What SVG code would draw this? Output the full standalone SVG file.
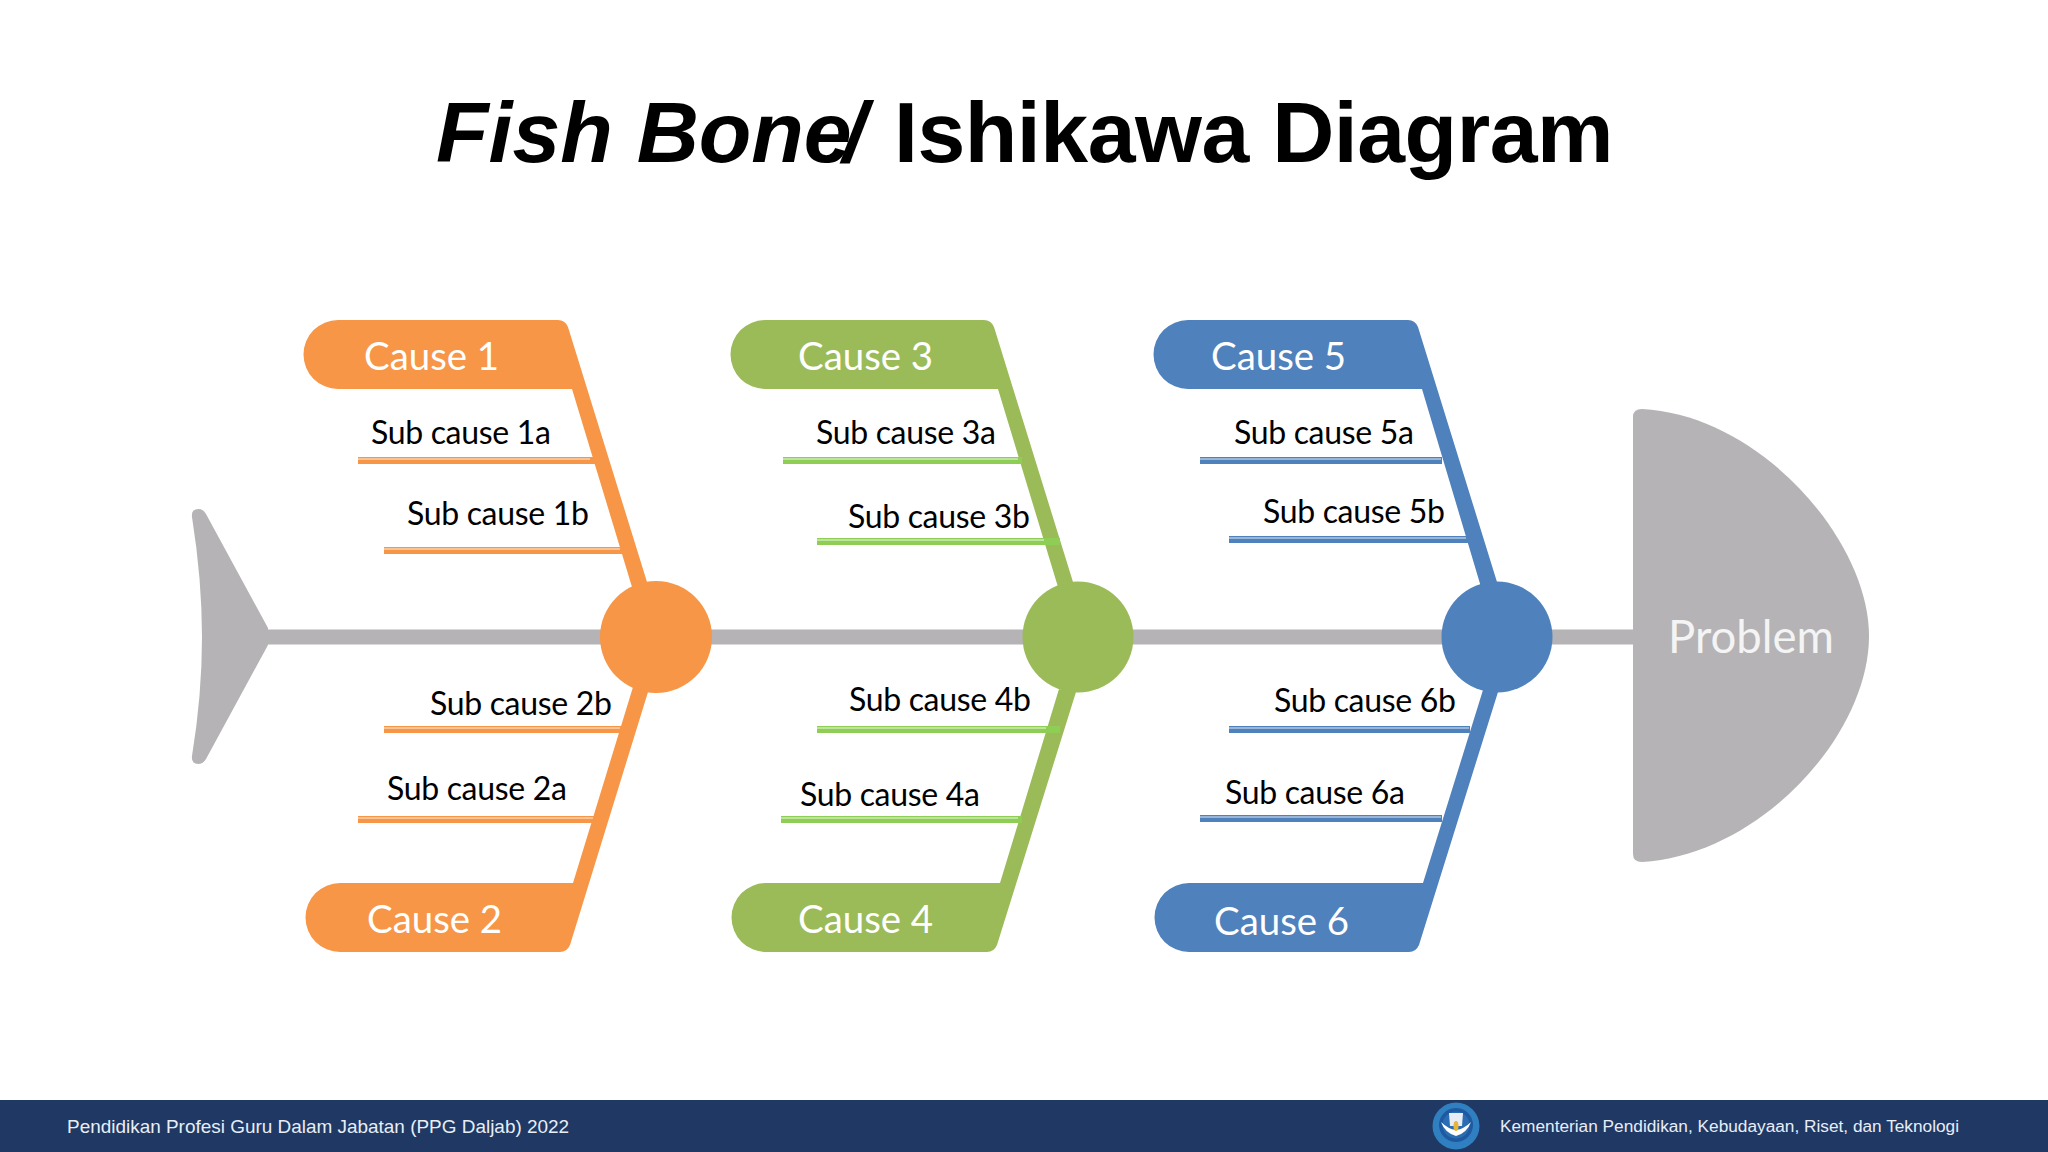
<svg xmlns="http://www.w3.org/2000/svg" width="2048" height="1152" viewBox="0 0 2048 1152">
<style>
.title{font-family:"Liberation Sans",Arial,sans-serif;font-weight:700;font-size:86px;fill:#000}
.cause{font-family:Lato,"Open Sans",sans-serif;font-size:38.400px;fill:#fff}
.sub{font-family:Lato,"Open Sans",sans-serif;font-size:32px;letter-spacing:-.33px;fill:#000}
.prob{font-family:Lato,"Open Sans",sans-serif;font-size:45.500px;fill:#f4f4f4}
.foot{font-family:"Liberation Sans",Arial,sans-serif;fill:#e8eef6}
.o{fill:#f79646}.g{fill:#9bbb59}.b{fill:#4f81bd}
.lo{stroke:#f79646}.lg{stroke:#8fce55}.lb{stroke:#4f81bd}
.sl{stroke-width:7;fill:none}
.gap{stroke:#fff;stroke-width:1.200;opacity:.85}
.bone{fill:#b5b3b5}
</style>
<rect width="2048" height="1152" fill="#fff"/>
<text class="title" x="436" y="162"><tspan font-style="italic">Fish Bone</tspan><tspan font-style="italic" dx="-9">/</tspan><tspan x="894" letter-spacing="-.47">Ishikawa Diagram</tspan></text>

<g id="connectors">
<path id="spine" d="M262,637H1650" stroke="#b5b3b5" stroke-width="15" fill="none"/>
</g>

<g id="tail"><path class="bone" d="M192,517Q191,509 198.500,509Q203,509 206,514L268,628V645L206,759Q203,764 198.500,764Q191,764 192,756Q202,695 202,637Q202,580 192,517Z"/></g>
<g id="problem"><path class="bone" d="M1633,417Q1633,409 1642,409C1760,415 1869,540 1869,636C1869,735 1760,855 1642,862Q1633,862 1633,854Z"/>
<text class="prob" x="1668" y="653">Problem</text></g>

<g id="cause1"><path class="o" d="M338,320H558Q565,320 568,327L647,582L632,587L572,389H338A34.500,34.500 0 0 1 338,320Z"/><text class="cause" x="364" y="369.500">Cause 1</text></g>
<g id="cause2"><path class="o" d="M340,883H573L633,687L648,692L570,945Q567,952 560,952H340A34.500,34.500 0 0 1 340,883Z"/><text class="cause" x="367" y="932.500">Cause 2</text></g>
<g id="cause3"><path class="g" d="M765,320H984Q991,320 994,327L1073,582L1058,587L998,389H765A34.500,34.500 0 0 1 765,320Z"/><text class="cause" x="798" y="369.500">Cause 3</text></g>
<g id="cause4"><path class="g" d="M766,883H1000L1059,689L1076,692L997,945Q994,952 987,952H766A34.500,34.500 0 0 1 766,883Z"/><text class="cause" x="798" y="932.500">Cause 4</text></g>
<g id="cause5"><path class="b" d="M1188,320H1408Q1415,320 1418,327L1497,582L1481,587L1422,389H1188A34.500,34.500 0 0 1 1188,320Z"/><text class="cause" x="1211" y="369.500">Cause 5</text></g>
<g id="cause6"><path class="b" d="M1189,883H1423L1483,690L1498,692L1419,945Q1416,952 1409,952H1189A34.500,34.500 0 0 1 1189,883Z"/><text class="cause" x="1214" y="934.500">Cause 6</text></g>

<g id="hub1"><circle class="o" cx="656" cy="637" r="56"/></g>
<g id="hub2"><circle class="g" cx="1078" cy="637" r="55.500"/></g>
<g id="hub3"><circle class="b" cx="1497" cy="637" r="55.500"/></g>

<g id="sublines">
<path class="sl lo" d="M358,460.500H595M384,550.500H622M384,729.500H622M358,819.500H595"/>
<path class="sl lg" d="M783,460.500H1022M817,541.500H1060M817,729.500H1060M781,819.500H1022"/>
<path class="sl lb" d="M1200,460.500H1442M1229,539.500H1468M1229,729.500H1470M1200,818.500H1442"/>
<path class="gap" d="M358,459H590M384,549H620M384,728H620M358,818H593"/>
<path class="gap" d="M783,459H1018M817,540H1044M817,728H1046M781,818H1018"/>
<path class="gap" d="M1200,459H1441M1229,538H1466M1229,728H1469M1200,817H1441"/>
</g>

<g id="sub1a"><text class="sub" x="371" y="444">Sub cause 1a</text></g>
<g id="sub1b"><text class="sub" x="407" y="525">Sub cause 1b</text></g>
<g id="sub2b"><text class="sub" x="430" y="715">Sub cause 2b</text></g>
<g id="sub2a"><text class="sub" x="387" y="800">Sub cause 2a</text></g>
<g id="sub3a"><text class="sub" x="816" y="444">Sub cause 3a</text></g>
<g id="sub3b"><text class="sub" x="848" y="528">Sub cause 3b</text></g>
<g id="sub4b"><text class="sub" x="849" y="711">Sub cause 4b</text></g>
<g id="sub4a"><text class="sub" x="800" y="806">Sub cause 4a</text></g>
<g id="sub5a"><text class="sub" x="1234" y="444">Sub cause 5a</text></g>
<g id="sub5b"><text class="sub" x="1263" y="523">Sub cause 5b</text></g>
<g id="sub6b"><text class="sub" x="1274" y="712">Sub cause 6b</text></g>
<g id="sub6a"><text class="sub" x="1225" y="804">Sub cause 6a</text></g>

<g id="footer">
<rect x="0" y="1100" width="2048" height="52" fill="#1f3864"/>
<text class="foot" x="67" y="1133" font-size="18.950">Pendidikan Profesi Guru Dalam Jabatan (PPG Daljab) 2022</text>
<text class="foot" x="1500" y="1132" font-size="17.250">Kementerian Pendidikan, Kebudayaan, Riset, dan Teknologi</text>
<g id="logo">
<circle cx="1456" cy="1126" r="23.500" fill="#2f7fc1"/>
<circle cx="1456" cy="1125" r="17" fill="#1f5aa0"/>
<circle cx="1456" cy="1125" r="13.500" fill="#2a6db3"/>
<path d="M1441,1122Q1445,1133 1456,1136Q1467,1133 1471,1122Q1464,1129 1456,1130Q1448,1129 1441,1122Z" fill="#fff"/>
<path d="M1450,1126L1449,1113H1463L1462,1126Z" fill="#e8edf3"/>
<ellipse cx="1456" cy="1126" rx="2.500" ry="5" fill="#e9b43a"/>
</g>
</g>
</svg>
